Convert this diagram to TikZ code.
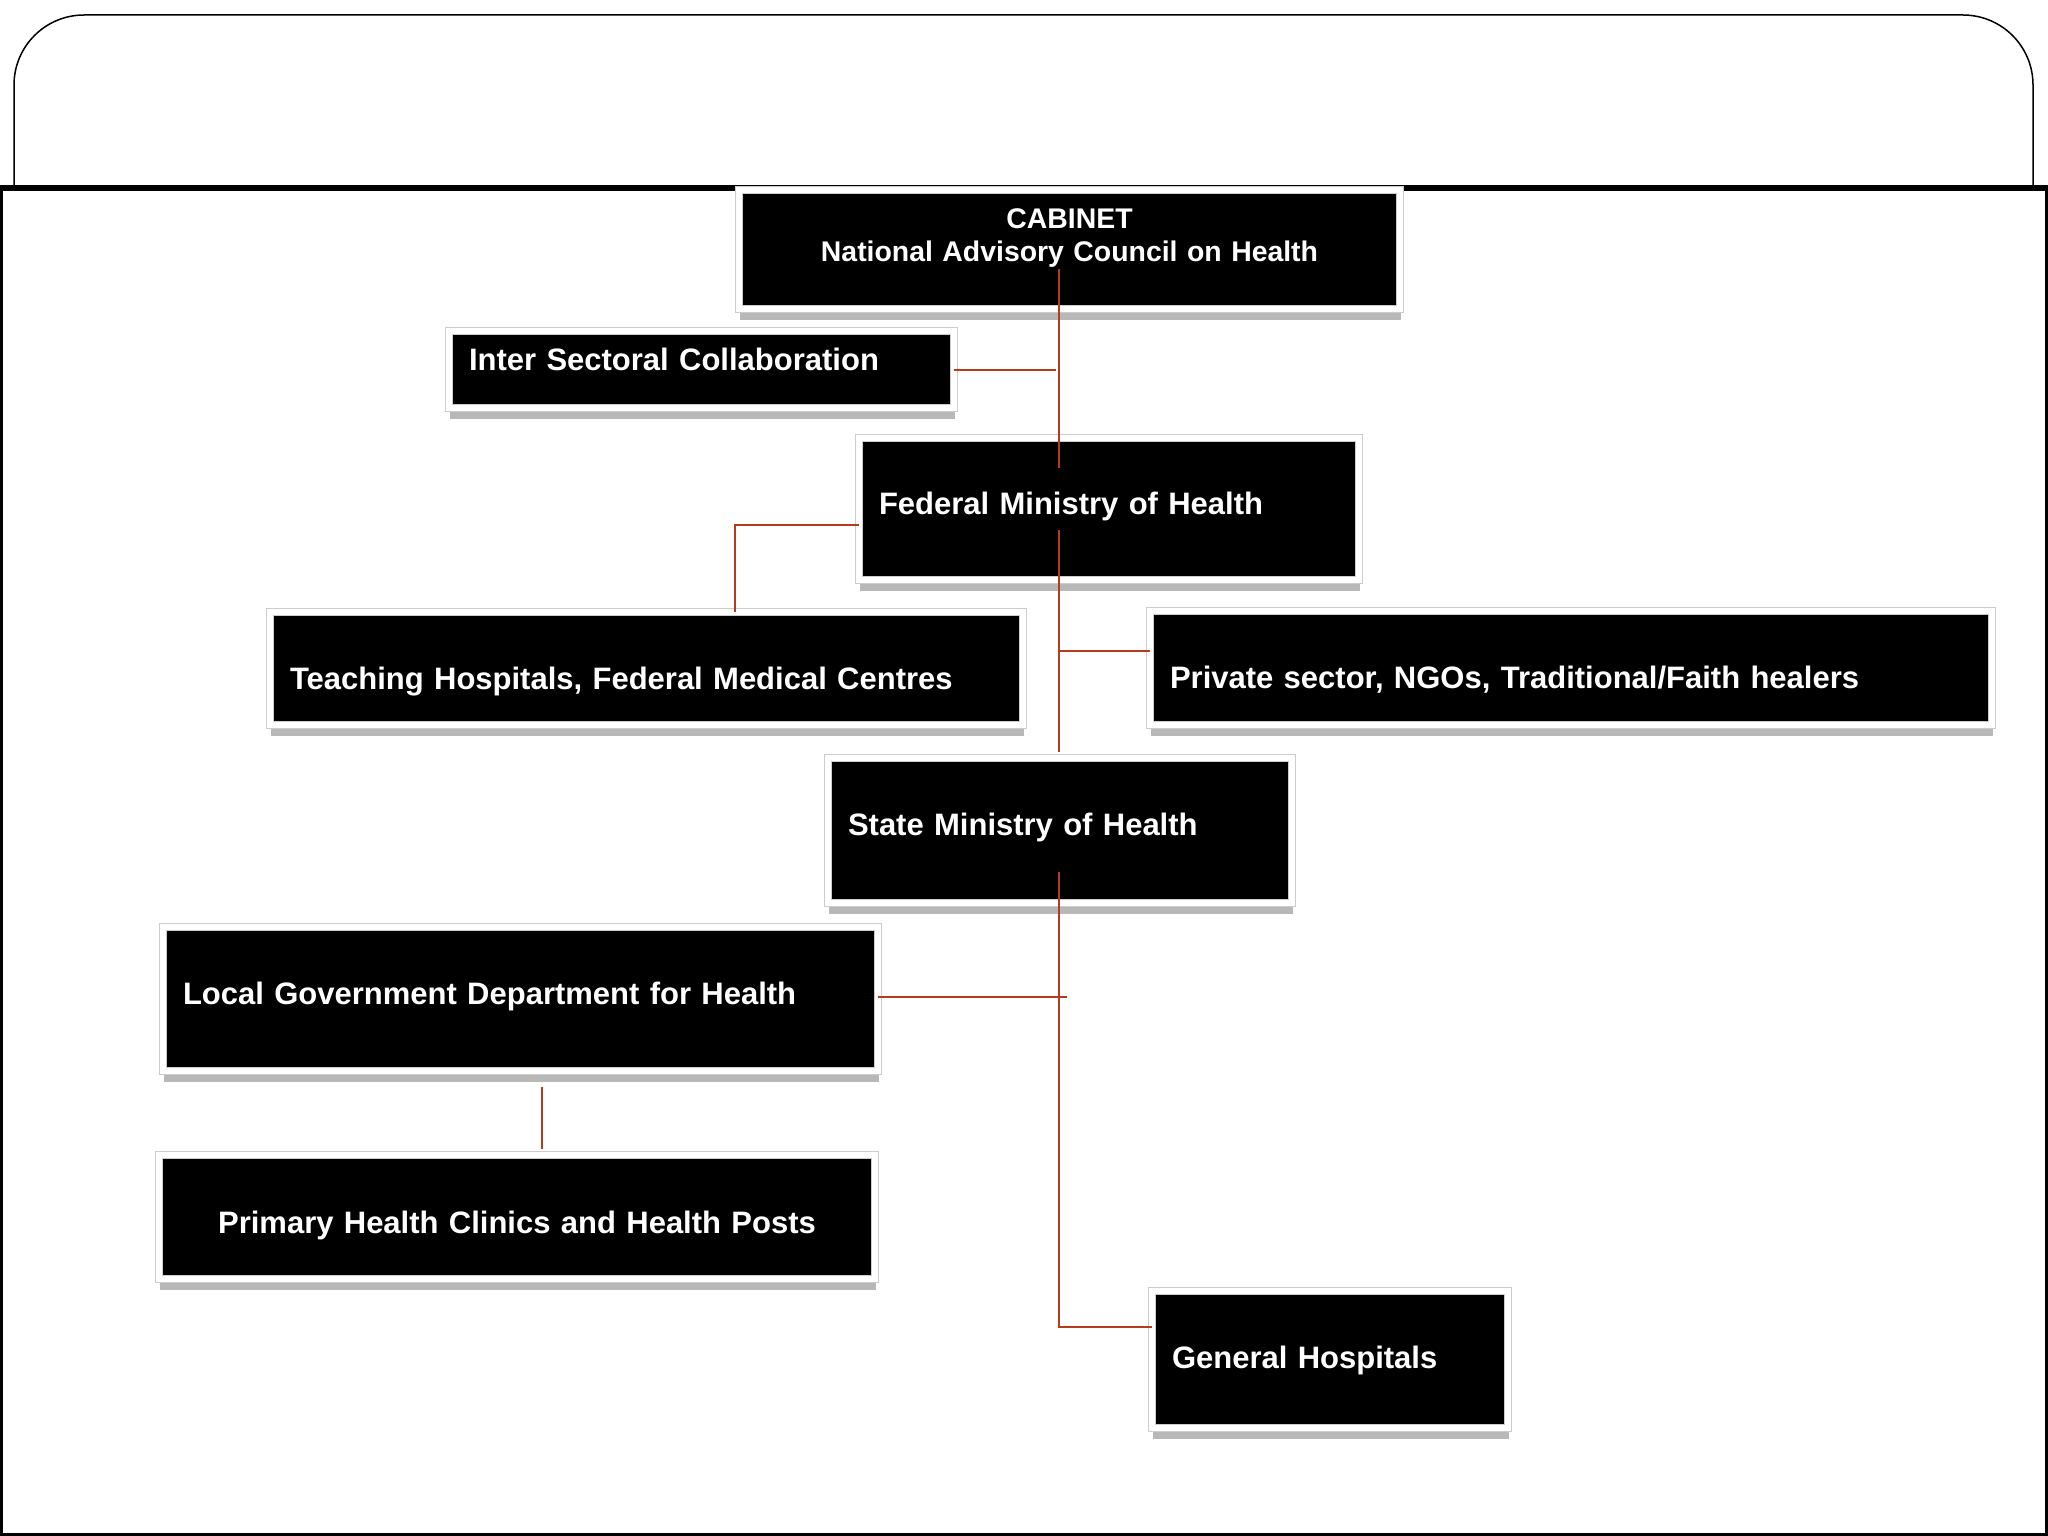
\documentclass[tikz,border=0pt]{standalone}
\usepackage{fontspec}
\setmainfont{Liberation Sans}
\usepackage{xcolor}
\usepackage{tikz}
\usetikzlibrary{shadows,calc}
\definecolor{linkred}{RGB}{178,60,28}

\begin{document}
\begin{tikzpicture}[x=1pt,y=-1pt]
  \tikzstyle{box}=[fill=black,draw=gray!40,line width=0.6pt,double=white,double distance=6pt,
    drop shadow={shadow xshift=1pt,shadow yshift=-11pt,fill=black!55},
    text=white,font=\fontsize{31}{36}\selectfont\bfseries,align=left,
    inner xsep=20pt,inner ysep=0pt,text depth=20pt]
  \tikzstyle{link}=[draw=linkred,line width=2pt]
  \useasboundingbox (0,0) rectangle (2048,1536);
  \fill[white] (0,0) rectangle (2048,1536);
  \draw[line width=1.5pt,rounded corners=70pt] (14,185) -- (14,15) -- (2033,15) -- (2033,185);
  \draw[line width=6pt] (0,188) rectangle (2048,1536);

  \node[box,minimum width=661pt,minimum height=119pt,text width=621pt,align=center,
    font=\fontsize{28.4}{33}\selectfont\bfseries,text height=20pt,text depth=63pt] (cab) at (1069.5,249.5)
    {CABINET\\National Advisory Council on Health};
  \node[box,minimum width=505pt,minimum height=77pt,text width=465pt,text height=21pt] (isc) at (701.5,369.5) {Inter Sectoral Collaboration};
  \node[box,minimum width=500pt,minimum height=142pt,text width=460pt,text height=30pt] (fed) at (1109,509) {Federal Ministry of Health};
  \node[box,minimum width=753pt,minimum height=113pt,text width=713pt,text height=61pt] (tch) at (646.5,668.5) {Teaching Hospitals, Federal Medical Centres};
  \node[box,minimum width=842pt,minimum height=114pt,text width=802pt,text height=60pt] (pvt) at (1571,668) {Private sector, NGOs, Traditional/Faith healers};
  \node[box,minimum width=464pt,minimum height=145pt,text width=424pt,text height=29pt] (smh) at (1060,830.5) {State Ministry of Health};
  \node[box,minimum width=715pt,minimum height=144pt,text width=675pt,text height=30pt] (lgd) at (520.5,999) {Local Government Department for Health};
  \node[box,minimum width=716pt,minimum height=124pt,text width=676pt,text height=52pt,align=center] (phc) at (517,1217) {Primary Health Clinics and Health Posts};
  \node[box,minimum width=356pt,minimum height=137pt,text width=316pt,text height=37pt] (gen) at (1330,1359.5) {General Hospitals};

  \coordinate (t1) at (1059,269);
  \coordinate (t2) at (1059,468);
  \coordinate (t3) at (1059,530);
  \coordinate (t4) at (1059,752);
  \coordinate (t5) at (1059,872);
  \coordinate (t6) at (1059,1327);
  \coordinate (tp) at (1059,651);
  \coordinate (tl) at (1067,997);
  \coordinate (tj) at (735,525);
  \coordinate (pa) at (542,1087);
  \coordinate (pb) at (542,1149);

  \draw[link] (t1) -- (t2);
  \draw[link] (isc.east) -- ($(isc.east -| t1)+(-3,0)$);
  \draw[link] (t3) -- (t4);
  \draw[link] (fed.west |- tj) -- (tj) -- (tj |- tch.north);
  \draw[link] (tp) -- (tp -| pvt.west);
  \draw[link] (lgd.east |- tl) -- (tl);
  \draw[link] (pa) -- (pb);
  \draw[link] (t5) -- (t6) -- (t6 -| gen.west);
\end{tikzpicture}
\end{document}
